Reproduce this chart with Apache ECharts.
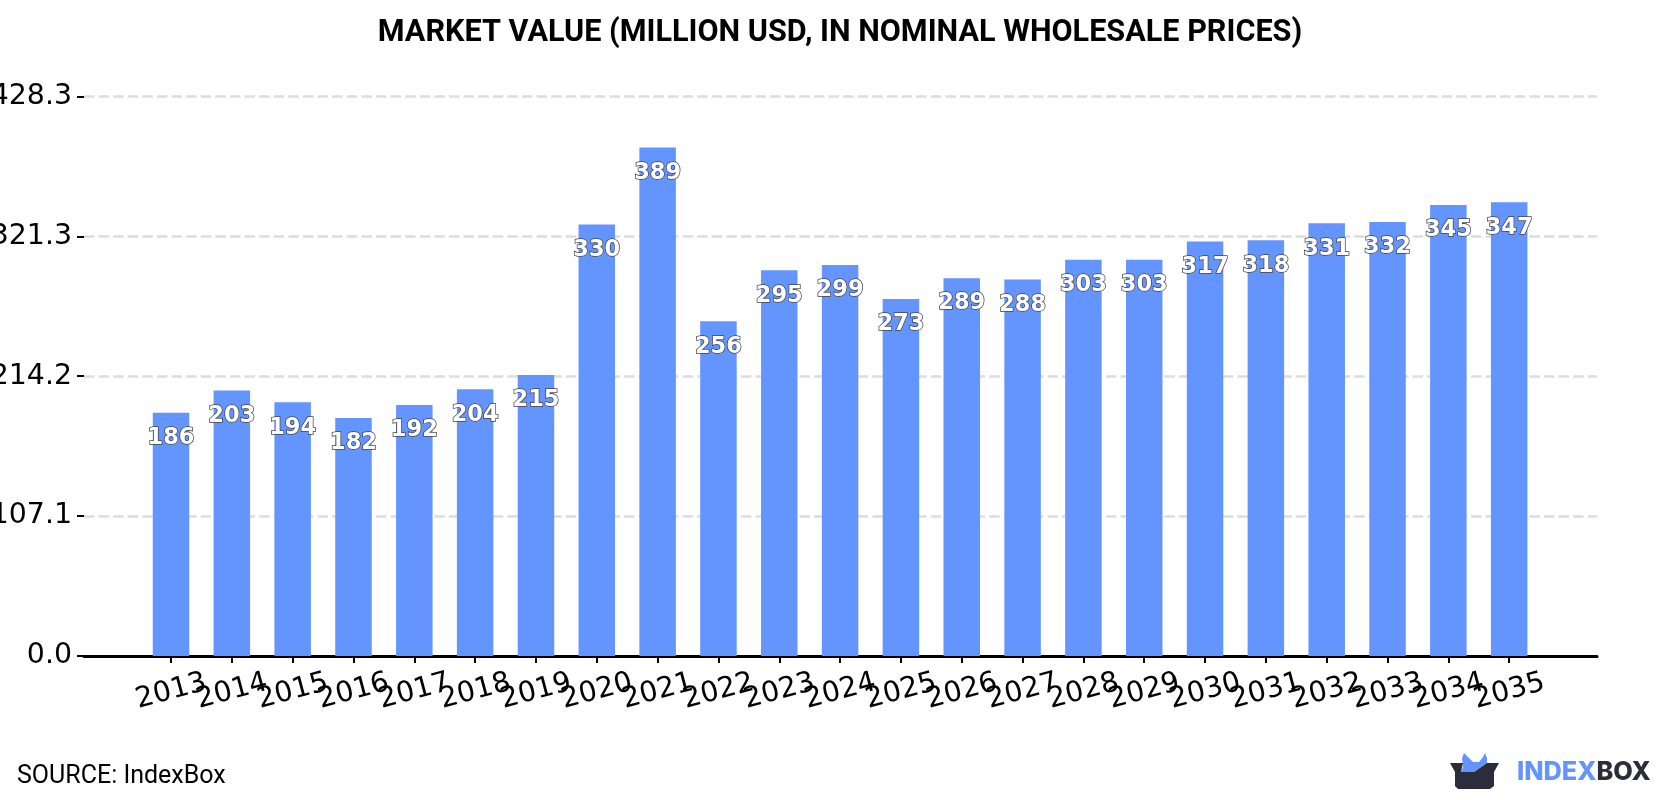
<!DOCTYPE html>
<html>
<head>
<meta charset="utf-8">
<title>Market value</title>
<script src="https://cdn.jsdelivr.net/npm/echarts@6/dist/echarts.min.js"></script>
<style>
  html, body { margin: 0; padding: 0; background: #fff; }
  #chart { width: 1680px; height: 800px; }
</style>
</head>
<body>
<div id="chart"></div>
<script>
const years = ['2013', '2014', '2015', '2016', '2017', '2018', '2019', '2020', '2021', '2022', '2023', '2024',
  '2025', '2026', '2027', '2028', '2029', '2030', '2031', '2032', '2033', '2034', '2035'];
const marketValue = [186, 203, 194, 182, 192, 204, 215, 330, 389, 256, 295, 299,
  273, 289, 288, 303, 303, 317, 318, 331, 332, 345, 347];
const valueTicks = [0, 107.1, 214.2, 321.3, 428.3];
const valueMax = 428.3;

const BLUE = '#6495ff';
const DARK = '#2b2d3a';
const TICK_FONT = 'DejaVu Sans';

const chart = echarts.init(document.getElementById('chart'), null, { renderer: 'canvas' });

chart.setOption({
  animation: false,
  backgroundColor: '#fff',
  title: {
    text: 'MARKET VALUE (MILLION USD, IN NOMINAL WHOLESALE PRICES)',
    left: 835,
    top: 13,
    textAlign: 'center',
    textStyle: { fontFamily: 'Roboto', fontWeight: 700, fontSize: 30.6, color: '#000' }
  },
  // Outer grid carries the value scale, gridlines and the long baseline;
  // inner grid lays the yearly bars out on a narrower band.
  grid: [
    { left: 84, width: 1513, top: 96.5, height: 559.5, outerBoundsMode: 'none' },
    { left: 140.6, width: 1399, top: 96, height: 560, outerBoundsMode: 'none' }
  ],
  xAxis: [
    {
      gridIndex: 0,
      type: 'value',
      min: 0,
      max: 1,
      splitLine: { show: false },
      axisTick: { show: false },
      axisLabel: { show: false },
      axisLine: { show: true, lineStyle: { color: '#000', width: 3 } }
    },
    {
      gridIndex: 1,
      type: 'category',
      data: years,
      axisLine: { show: false },
      axisTick: { show: true, alignWithLabel: true, length: 7, lineStyle: { color: '#000', width: 2 } },
      axisLabel: {
        interval: 0,
        rotate: 15,
        margin: 21,
        align: 'center',
        verticalAlign: 'top',
        padding: [0, 7, 0, 0],
        hideOverlap: false,
        fontFamily: TICK_FONT,
        fontSize: 28.4,
        color: '#000'
      }
    }
  ],
  yAxis: [
    {
      gridIndex: 0,
      type: 'value',
      min: 0,
      max: valueMax,
      axisLine: { show: false },
      axisTick: { show: true, length: 7, customValues: valueTicks, lineStyle: { color: '#000', width: 2 } },
      splitLine: { show: true, lineStyle: { color: '#dddddd', width: 2.5, type: [10.4, 4.2] } },
      axisLabel: {
        customValues: valueTicks,
        formatter: v => v.toFixed(1),
        margin: 12,
        padding: [4, 0, 0, 0],
        fontFamily: TICK_FONT,
        fontSize: 28.4,
        color: '#000'
      }
    },
    {
      gridIndex: 1,
      type: 'value',
      min: 0,
      max: valueMax,
      axisLine: { show: false },
      axisTick: { show: false },
      axisLabel: { show: false },
      splitLine: { show: false }
    }
  ],
  series: [{
    type: 'bar',
    xAxisIndex: 1,
    yAxisIndex: 1,
    barWidth: 36.5,
    data: marketValue,
    itemStyle: { color: BLUE },
    label: {
      show: true,
      position: 'insideTop',
      distance: 14,
      fontFamily: TICK_FONT,
      fontWeight: 'bold',
      fontSize: 22.5,
      color: '#fff',
      textBorderColor: '#444',
      textBorderWidth: 1.5
    }
  }],
  graphic: [
    {
      type: 'text',
      left: 17,
      top: 764,
      style: { text: 'SOURCE: IndexBox', fontFamily: 'Roboto', fontSize: 25, fill: '#000' }
    },
    {
      type: 'polygon',
      shape: { points: [[1463, 767], [1462, 758], [1464, 753], [1469, 758], [1473, 762], [1479, 762], [1483, 757], [1485, 753], [1487, 758], [1487, 763], [1474, 772], [1461, 772]] },
      style: { fill: BLUE }
    },
    {
      type: 'polygon',
      shape: { points: [[1450, 763], [1463, 763], [1461, 772], [1474, 772], [1487, 763], [1499, 763], [1494, 772], [1494, 786], [1490, 789], [1458, 789], [1455, 786], [1455, 772]] },
      style: { fill: DARK }
    },
    {
      type: 'text',
      left: 1517,
      top: 760,
      style: {
        text: '{a|INDEX}{b|BOX}',
        rich: {
          a: { fontFamily: 'Inter', fontWeight: 800, fontSize: 25.3, fill: BLUE, color: BLUE },
          b: { fontFamily: 'Inter', fontWeight: 800, fontSize: 25.3, fill: DARK, color: DARK }
        }
      }
    }
  ]
});
</script>
</body>
</html>
